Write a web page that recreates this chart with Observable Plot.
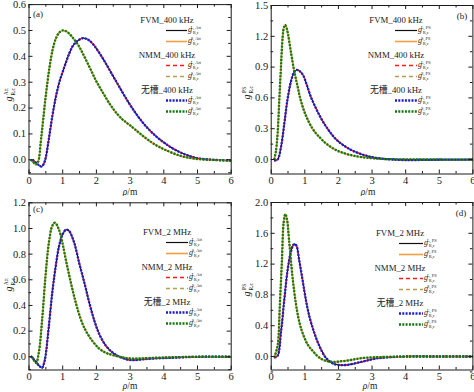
<!DOCTYPE html>
<html><head><meta charset="utf-8">
<script src="https://cdn.jsdelivr.net/npm/d3@7"></script>
<script src="https://cdn.jsdelivr.net/npm/@observablehq/plot@0.6"></script>
<style>
body{margin:0;background:#fff;}
#fig{position:relative;width:474px;height:392px;overflow:hidden;background:#fff;}
#fig svg{position:absolute;}
</style></head><body><div id="fig"></div>
<script>
// ---------- data ----------
const xMajor = [0, 1, 2, 3, 4, 5, 6];
const xMinor = [0.5, 1.5, 2.5, 3.5, 4.5, 5.5];
const yMajorA = [0, 0.1, 0.2, 0.3, 0.4, 0.5, 0.6];
const yMinorA = [-0.05, 0.05, 0.15, 0.25, 0.35, 0.45, 0.55];
const yMajorB = [0, 0.3, 0.6, 0.9, 1.2, 1.5];
const yMinorB = [0.15, 0.45, 0.75, 1.05, 1.35];
const yMajorC = [0, 0.2, 0.4, 0.6, 0.8, 1.0, 1.2];
const yMinorC = [-0.1, 0.1, 0.3, 0.5, 0.7, 0.9, 1.1];
const yMajorD = [0, 0.4, 0.8, 1.2, 1.6, 2.0];
const yMinorD = [-0.2, 0.2, 0.6, 1.0, 1.4, 1.8];

// panel (a): 400 kHz, Att
const aL_rho = [0.1,0.2,0.3,0.38,0.45,0.5,0.6,0.7,0.8,0.9,1.0,1.1,1.2,1.3,1.4,1.5,1.6,1.7,1.8,1.9,2.0,2.2,2.4,2.6,2.8,3.0,3.25,3.5,3.75,4.0,4.25,4.5,4.75,5.0,5.5,6.0];
const aL_g   = [0,-0.01,-0.022,-0.026,-0.012,0.01,0.09,0.175,0.245,0.3,0.34,0.378,0.413,0.44,0.455,0.465,0.47,0.468,0.46,0.447,0.43,0.39,0.345,0.3,0.255,0.212,0.165,0.125,0.093,0.067,0.045,0.028,0.015,0.006,0.0,-0.003];
const aS_rho = [0.05,0.1,0.2,0.27,0.35,0.4,0.5,0.6,0.7,0.8,0.9,1.0,1.1,1.2,1.3,1.4,1.5,1.6,1.8,2.0,2.2,2.4,2.6,2.8,3.0,3.25,3.5,3.75,4.0,4.5,5.0,5.5,6.0];
const aS_g   = [0.0,-0.005,-0.018,-0.008,0.07,0.13,0.25,0.35,0.425,0.47,0.492,0.5,0.497,0.487,0.472,0.455,0.435,0.41,0.357,0.303,0.258,0.215,0.18,0.153,0.133,0.106,0.08,0.058,0.041,0.015,0.003,-0.001,-0.003];
// panel (b): 400 kHz, PS
const bL_rho = [0.09,0.19,0.29,0.39,0.48,0.58,0.68,0.76,0.85,0.95,1.05,1.18,1.33,1.52,1.72,1.92,2.16,2.41,2.71,3.0,3.3,3.6,4.0,4.5,5.0,6.0];
const bL_g   = [-0.01,0.0,0.12,0.35,0.575,0.75,0.85,0.872,0.86,0.82,0.735,0.61,0.5,0.38,0.28,0.2,0.136,0.088,0.049,0.023,0.008,0.0,-0.005,-0.004,-0.002,0.0];
const bS_rho = [0.09,0.14,0.19,0.24,0.29,0.34,0.38,0.41,0.45,0.5,0.58,0.68,0.78,0.88,1.03,1.23,1.43,1.67,1.92,2.16,2.41,2.71,3.1,3.5,4.0,5.0,6.0];
const bS_g   = [0.0,0.08,0.25,0.575,0.9,1.19,1.29,1.31,1.29,1.22,1.06,0.87,0.72,0.575,0.43,0.3,0.22,0.146,0.094,0.062,0.04,0.023,0.01,0.004,0.001,0.0,0.0];
// panel (c): 2 MHz, Att
const cL_rho = [0.05,0.19,0.3,0.39,0.45,0.49,0.59,0.69,0.79,0.89,0.99,1.1,1.19,1.34,1.49,1.64,1.79,1.94,2.09,2.29,2.49,2.69,2.89,3.09,3.3,3.6,4.0,4.5,5.0,6.0];
const cL_g   = [0.005,-0.034,-0.07,-0.086,-0.045,0.005,0.24,0.5,0.7,0.86,0.95,0.99,0.98,0.89,0.73,0.58,0.42,0.28,0.174,0.083,0.031,0.0,-0.02,-0.026,-0.022,-0.015,-0.01,-0.005,0.0,0.0];
const cS_rho = [0.09,0.21,0.29,0.39,0.49,0.59,0.69,0.77,0.89,0.99,1.09,1.24,1.39,1.54,1.69,1.89,2.09,2.29,2.49,2.69,2.99,3.3,3.7,4.2,5.0,6.0];
const cS_g   = [0.0,-0.047,0.03,0.29,0.63,0.89,1.02,1.045,0.99,0.89,0.76,0.58,0.42,0.29,0.2,0.12,0.062,0.03,0.013,0.0,-0.013,-0.013,-0.008,-0.004,0.0,0.0];
// panel (d): 2 MHz, PS
const dL_rho = [0.09,0.19,0.29,0.39,0.49,0.58,0.66,0.71,0.76,0.83,0.93,1.03,1.13,1.28,1.43,1.62,1.82,2.02,2.22,2.52,2.81,3.11,3.5,4.0,5.0,6.0];
const dL_g   = [-0.013,0.01,0.31,0.74,1.13,1.35,1.45,1.46,1.43,1.26,1.0,0.74,0.53,0.31,0.14,-0.013,-0.087,-0.11,-0.11,-0.087,-0.056,-0.026,-0.01,0.0,0.0,0.0];
const dS_rho = [0.09,0.19,0.26,0.32,0.37,0.42,0.47,0.53,0.63,0.73,0.83,0.93,1.08,1.23,1.43,1.62,1.82,2.02,2.32,2.61,2.91,3.2,3.6,4.0,5.0,6.0];
const dS_g   = [-0.013,0.14,0.7,1.26,1.74,1.85,1.78,1.52,1.05,0.7,0.46,0.31,0.16,0.074,-0.013,-0.056,-0.07,-0.065,-0.048,-0.026,-0.013,-0.008,-0.003,0.0,0.0,0.0];

const methods = ["FVM", "NMM", "无槽"];
const freqs = ["400 kHz", "2 MHz"];
const kinds = ["Att", "PS"];
const tags = ["(a)", "(b)", "(c)", "(d)"];

// ---------- styling ----------
const FONT = "'Liberation Serif','Times New Roman','Noto Sans CJK SC',serif";
const INK = "#1a1a1a";
const seriesStyle = [
  {series: "L", stroke: "#111111", strokeWidth: 1.2, dash: null},
  {series: "S", stroke: "#f5a040", strokeWidth: 1.6, dash: null},
  {series: "L", stroke: "#ff1a1a", strokeWidth: 1.3, dash: "4,3"},
  {series: "S", stroke: "#b0a050", strokeWidth: 1.3, dash: "4,3"},
  {series: "L", stroke: "#1c1cd0", strokeWidth: 2.3, dash: "2,1.3"},
  {series: "S", stroke: "#107a10", strokeWidth: 2.3, dash: "2,1.3"}
];

const panels = [
  {left: 0,   top: 0,   width: 234, mL: 28.5, mR: 3.3, mT: 4.1, yDomain: [-0.055, 0.6], yMajor: yMajorA, yMinor: yMinorA, fmt: d => d.toFixed(1),
   L: [aL_rho, aL_g], S: [aS_rho, aS_g], kind: kinds[0], freq: freqs[0], tag: tags[0], tagPos: [38, 14], legX: 166, legY: 20, lineLen: 21, ylab: [9, 92], xlab: [130, 192]},
  {left: 234, top: 0,   width: 240, mL: 36.7, mR: 1.6, mT: 5,   yDomain: [-0.141, 1.5], yMajor: yMajorB, yMinor: yMinorB, fmt: d => d.toFixed(1),
   L: [bL_rho, bL_g], S: [bS_rho, bS_g], kind: kinds[1], freq: freqs[0], tag: tags[1], tagPos: [462, 16], legX: 395, legY: 20, lineLen: 22, ylab: [247, 90], xlab: [368, 192]},
  {left: 0,   top: 196, width: 234, mL: 28.5, mR: 3.3, mT: 6.3, yDomain: [-0.103, 1.2], yMajor: yMajorC, yMinor: yMinorC, fmt: d => d.toFixed(1),
   L: [cL_rho, cL_g], S: [cS_rho, cS_g], kind: kinds[0], freq: freqs[1], tag: tags[2], tagPos: [38, 209], legX: 166, legY: 232, lineLen: 22, ylab: [9, 282], xlab: [130, 386]},
  {left: 234, top: 196, width: 240, mL: 36.7, mR: 1.6, mT: 6,   yDomain: [-0.175, 2.0], yMajor: yMajorD, yMinor: yMinorD, fmt: d => d.toFixed(1),
   L: [dL_rho, dL_g], S: [dS_rho, dS_g], kind: kinds[1], freq: freqs[1], tag: tags[3], tagPos: [461, 213], legX: 399, legY: 233, lineLen: 24, ylab: [247, 287], xlab: [370, 386]}
];

const H = 196, MB = 22.5;
const fig = document.getElementById("fig");

// g with stacked superscript / subscript
function gLabel(sel, x, y, sup, sub, size) {
  const t = sel.append("text").attr("x", x).attr("y", y).attr("font-family", FONT).attr("fill", INK);
  t.append("tspan").attr("font-style", "italic").attr("font-size", size).text("g");
  t.append("tspan").attr("x", x + size * 0.72).attr("dy", -size * 0.38).attr("font-size", size * 0.55).text(sup);
  t.append("tspan").attr("x", x + size * 0.72).attr("dy", size * 0.68).attr("font-size", size * 0.55).text(sub);
  return t;
}

panels.forEach((p) => {
  const fw = p.width - p.mL - p.mR;
  const fh = H - p.mT - MB;
  const pts = ([r, g]) => r.map((v, i) => ({rho: v, g: g[i]}));
  const lines = seriesStyle.map(s => Plot.line(pts(p[s.series]), {
    x: "rho", y: "g", stroke: s.stroke, strokeWidth: s.strokeWidth,
    strokeDasharray: s.dash, strokeLinecap: "butt", curve: "catmull-rom"
  }));
  const tickStyle = {stroke: INK, strokeWidth: 1};
  const chart = Plot.plot({
    width: p.width, height: H,
    marginLeft: p.mL, marginRight: p.mR, marginTop: p.mT, marginBottom: MB,
    x: {domain: [0, 6]},
    y: {domain: p.yDomain},
    style: {fontFamily: FONT, fontSize: "10.5px", color: INK, background: "transparent"},
    marks: [
      ...lines,
      Plot.ruleX(xMajor, {x: d => d, insetTop: fh - 4, ...tickStyle}),
      Plot.ruleX(xMajor, {x: d => d, insetBottom: fh - 4, ...tickStyle}),
      Plot.ruleX(xMinor, {x: d => d, insetTop: fh - 2.5, ...tickStyle}),
      Plot.ruleX(xMinor, {x: d => d, insetBottom: fh - 2.5, ...tickStyle}),
      Plot.ruleY(p.yMajor, {y: d => d, insetRight: fw - 4, ...tickStyle}),
      Plot.ruleY(p.yMajor, {y: d => d, insetLeft: fw - 4, ...tickStyle}),
      Plot.ruleY(p.yMinor, {y: d => d, insetRight: fw - 2.5, ...tickStyle}),
      Plot.ruleY(p.yMinor, {y: d => d, insetLeft: fw - 2.5, ...tickStyle}),
      Plot.axisX({ticks: xMajor, tickSize: 0, tickPadding: 3, tickFormat: d => String(d), label: null}),
      Plot.axisY({ticks: p.yMajor, tickSize: 0, tickPadding: 3, tickFormat: p.fmt, label: null}),
      Plot.frame({stroke: INK, strokeWidth: 1})
    ]
  });
  chart.style.left = p.left + "px";
  chart.style.top = p.top + "px";
  fig.appendChild(chart);

  const svg = d3.select(chart);
  const ox = p.left, oy = p.top;
  const g = svg.append("g");

  // panel tag
  g.append("text").attr("x", p.tagPos[0] - ox).attr("y", p.tagPos[1] - oy).attr("dy", "0.35em")
    .attr("text-anchor", "middle").attr("font-family", FONT).attr("font-size", 9).attr("fill", INK).text(p.tag);

  // x-axis title  ρ/m
  const xt = g.append("text").attr("x", p.xlab[0] - ox).attr("y", p.xlab[1] - oy).attr("dy", "0.35em")
    .attr("text-anchor", "middle").attr("font-family", FONT).attr("font-size", 9.5).attr("fill", INK);
  xt.append("tspan").attr("font-style", "italic").text("ρ");
  xt.append("tspan").text("/m");

  // y-axis title  g^{kind}_{R,c}
  const yg = g.append("g").attr("transform", `translate(${p.ylab[0] - ox},${p.ylab[1] - oy + 7}) rotate(-90)`);
  gLabel(yg, 0, 3, p.kind, "R,c", 10);

  // legend
  const lx = p.legX - ox;
  methods.forEach((m, mi) => {
    const hy = p.legY - oy + mi * 35;
    g.append("text").attr("x", lx + 1).attr("y", hy).attr("dy", "0.35em")
      .attr("font-family", FONT).attr("font-size", 8.8).attr("fill", INK).text(`${m}_${p.freq}`);
    ["L", "S"].forEach((s, si) => {
      const st = seriesStyle[mi * 2 + si];
      const ly = hy + 10.5 + si * 11;
      g.append("line").attr("x1", lx).attr("x2", lx + p.lineLen).attr("y1", ly).attr("y2", ly)
        .attr("stroke", st.stroke).attr("stroke-width", st.strokeWidth)
        .attr("stroke-dasharray", st.dash);
      gLabel(g, lx + p.lineLen + 3, ly + 1.5, `${s}, ${p.kind}`, "R,c", 8);
    });
  });
});
</script></body></html>
